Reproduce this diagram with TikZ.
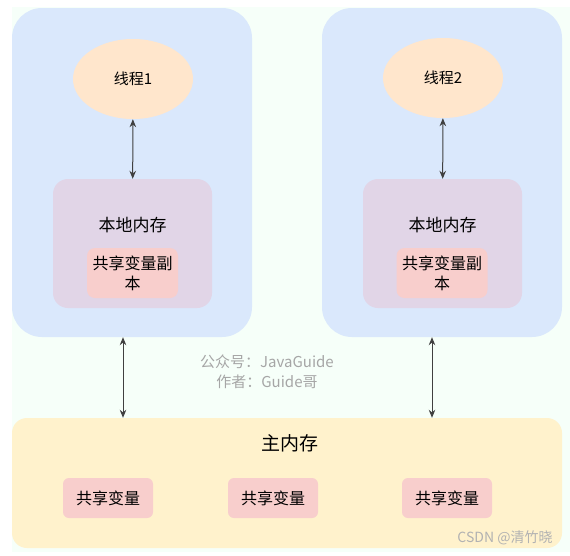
\documentclass[tikz,border=0pt]{standalone}
\usepackage{fontspec}
\setmainfont{Noto Sans CJK SC}
\usetikzlibrary{arrows.meta,positioning,calc,shapes.geometric}
\definecolor{bggreen}{RGB}{246,255,249}
\definecolor{blueFill}{RGB}{218,232,252}
\definecolor{threadFill}{RGB}{255,230,204}
\definecolor{localFill}{RGB}{225,213,231}
\definecolor{varFill}{RGB}{248,206,204}
\definecolor{mainFill}{RGB}{255,242,204}
\tikzset{
  >={Stealth[length=8pt,width=6.5pt]},
  every node/.style = {font=\fontsize{15}{18}\selectfont},
  workbox/.style = {fill=blueFill, rounded corners=30pt, minimum width=240pt, minimum height=329pt, inner sep=0pt},
  thread/.style  = {ellipse, fill=threadFill, minimum width=120pt, minimum height=80pt, inner sep=0pt},
  localmem/.style = {fill=localFill, rounded corners=15pt, minimum width=159pt, minimum height=129pt, inner sep=0pt},
  copybox/.style = {fill=varFill, rounded corners=8pt, minimum width=91pt, minimum height=50pt, inner sep=0pt, align=center, font=\fontsize{16}{20}\selectfont},
  varbox/.style = {fill=varFill, rounded corners=6pt, minimum width=90pt, minimum height=40pt, inner sep=0pt, font=\fontsize{16}{20}\selectfont},
  title/.style = {inner sep=0pt, font=\fontsize{17}{20}\selectfont},
  signtext/.style = {inner sep=0pt, text=black!35, align=center, font=\fontsize{15}{20}\selectfont},
  link/.style = {<->, line width=1pt, draw=black!75}
}

\begin{document}
\begin{tikzpicture}[x=1pt, y=-1pt]
\useasboundingbox (0,0) rectangle (570,555);
\fill[bggreen] (12,7) rectangle (570,552);

% two threads with their local memory
\node[workbox] (W1) at (132,172.5) {};
\node[workbox] (W2) at (442,172.5) {};

\node[thread] (T1) at (133,79) {线程1};
\node[thread] (T2) at (443,78) {线程2};

\node[localmem] (L1) at (132.5,243.5) {};
\node[localmem] (L2) at (442.5,243.5) {};
\node[title] (L1t) at (132.5,225) {本地内存};
\node[title] (L2t) at (442.5,225) {本地内存};
\node[copybox] (C1) at (132.5,273) {共享变量副\\本};
\node[copybox] (C2) at (442,273) {共享变量副\\本};

% main memory
\node[fill=mainFill, rounded corners=15pt, minimum width=550pt, minimum height=130pt, inner sep=0pt] (M) at (287,483) {};
\node[title, font=\fontsize{19}{22}\selectfont] (Mt) at (290,443) {主内存};
\node[varbox] (V1) at (108,498) {共享变量};
\node[varbox] (V2) at (273,498) {共享变量};
\node[varbox] (V3) at (447,498) {共享变量};

\draw[link] (T1) -- (L1);
\draw[link] (T2) -- (L2);
\draw[link] ([xshift=-9pt]W1.south) -- ([xshift=-9pt]W1.south |- M.north);
\draw[link] ([xshift=-10pt]W2.south) -- ([xshift=-10pt]W2.south |- M.north);

\node[signtext] (wm) at (267,372) {公众号：JavaGuide\\作者：Guide哥};
\node[signtext, text=black!30, font=\fontsize{14}{16}\selectfont] (csdn) at (505,538) {CSDN @清竹晓};
\end{tikzpicture}
\end{document}
